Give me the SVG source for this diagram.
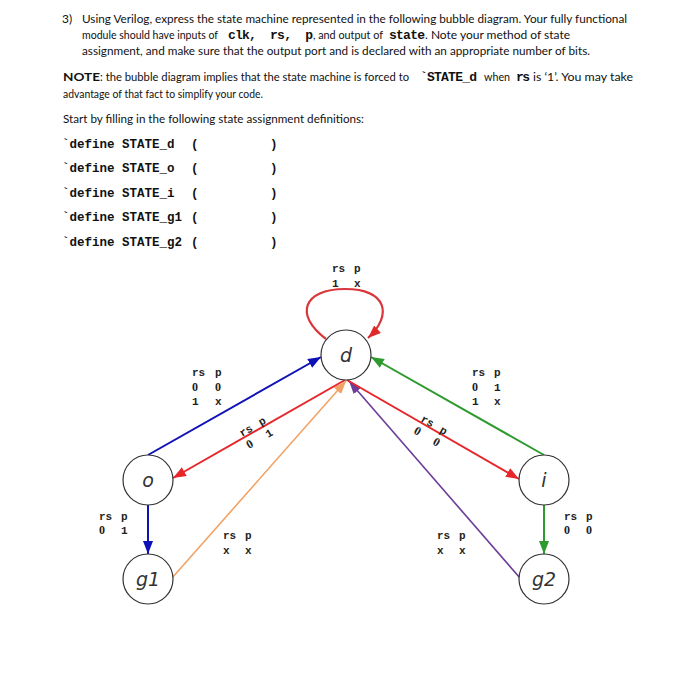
<svg xmlns="http://www.w3.org/2000/svg" width="696" height="700" viewBox="0 0 696 700">
<style>
.t{font-family:Lato,"Liberation Sans",sans-serif;font-size:12px;fill:#111}
.s{font-size:11.3px}
.b{font-weight:bold}
.m{font-family:"Liberation Mono","DejaVu Sans Mono",monospace;font-weight:bold;font-size:13px;fill:#111}
.dm{font-family:"Liberation Mono","DejaVu Sans Mono",monospace;font-weight:bold;font-size:12.5px;fill:#111}
.lb{font-family:"Liberation Mono","DejaVu Sans Mono",monospace;font-weight:bold;font-size:11px;fill:#222}
.z{font-family:"Liberation Serif",serif;font-weight:bold;font-size:12px}
.node circle{fill:#fff;stroke:#333;stroke-width:1.2}
.node text{font-family:"DejaVu Sans",sans-serif;font-weight:200;font-style:italic;font-size:19px;fill:#333;text-anchor:middle}
.e{fill:none}
</style>
<defs>
<marker id="aBlue" markerUnits="userSpaceOnUse" markerWidth="13" markerHeight="10" refX="13" refY="5" orient="auto"><path d="M0,0 L13,5 L0,10 z" fill="#1010b8"/></marker>
<marker id="aRed" markerUnits="userSpaceOnUse" markerWidth="13" markerHeight="10" refX="13" refY="5" orient="auto"><path d="M0,0 L13,5 L0,10 z" fill="#e8262a"/></marker>
<marker id="aLoop" markerUnits="userSpaceOnUse" markerWidth="13" markerHeight="10" refX="13" refY="5" orient="auto"><path d="M0,0 L13,5 L0,10 z" fill="#e02a2a"/></marker>
<marker id="aGreen" markerUnits="userSpaceOnUse" markerWidth="13" markerHeight="10" refX="13" refY="5" orient="auto"><path d="M0,0 L13,5 L0,10 z" fill="#2f9a2f"/></marker>
<marker id="aOrange" markerUnits="userSpaceOnUse" markerWidth="13" markerHeight="10" refX="13" refY="5" orient="auto"><path d="M0,0 L13,5 L0,10 z" fill="#f2a264"/></marker>
<marker id="aPurple" markerUnits="userSpaceOnUse" markerWidth="13" markerHeight="10" refX="13" refY="5" orient="auto"><path d="M0,0 L13,5 L0,10 z" fill="#6b3c98"/></marker>
</defs>
<rect width="696" height="700" fill="#fff"/>

<g id="question">
<text class="t" x="62" y="23">3)</text>
<text class="t" x="82" y="23" textLength="545" lengthAdjust="spacingAndGlyphs">Using Verilog, express the state machine represented in the following bubble diagram.  Your fully functional</text>
<text class="t" x="82" y="39" textLength="136" lengthAdjust="spacingAndGlyphs">module should have inputs of</text>
<text class="m" x="228" y="39" textLength="85" xml:space="preserve">clk,  rs,  p</text>
<text class="t" x="313" y="39" textLength="70" lengthAdjust="spacingAndGlyphs">, and output of</text>
<text class="m" x="389" y="39" textLength="36">state</text>
<text class="t" x="425" y="39" textLength="145" lengthAdjust="spacingAndGlyphs">. Note your method of state</text>
<text class="t" x="82" y="55" textLength="508" lengthAdjust="spacingAndGlyphs">assignment, and make sure that the output port and is declared with an appropriate number of bits.</text>
<text class="t b" x="63" y="81" textLength="37" lengthAdjust="spacingAndGlyphs">NOTE</text>
<text class="t s" x="100" y="81" textLength="309" lengthAdjust="spacingAndGlyphs">: the bubble diagram implies that the state machine is forced to</text>
<text class="m" x="420" y="81" textLength="57">`STATE_d</text>
<text class="t" x="484" y="81" textLength="26" lengthAdjust="spacingAndGlyphs">when</text>
<text class="m" x="516" y="81" textLength="14">rs</text>
<text class="t" x="533" y="81" textLength="100" lengthAdjust="spacingAndGlyphs">is ‘1’.  You may take</text>
<text class="t" x="63" y="98" textLength="200" lengthAdjust="spacingAndGlyphs">advantage of that fact to simplify your code.</text>
<text class="t" x="63" y="123" textLength="301" lengthAdjust="spacingAndGlyphs">Start by filling in the following state assignment definitions:</text>
<text class="dm" x="62" y="148">`define STATE_d</text><text class="dm" x="191" y="148">(</text><text class="dm" x="270" y="148">)</text>
<text class="dm" x="62" y="172">`define STATE_o</text><text class="dm" x="191" y="172">(</text><text class="dm" x="270" y="172">)</text>
<text class="dm" x="62" y="197">`define STATE_i</text><text class="dm" x="191" y="197">(</text><text class="dm" x="270" y="197">)</text>
<text class="dm" x="62" y="221">`define STATE_g1</text><text class="dm" x="191" y="221">(</text><text class="dm" x="270" y="221">)</text>
<text class="dm" x="62" y="246">`define STATE_g2</text><text class="dm" x="191" y="246">(</text><text class="dm" x="270" y="246">)</text>
</g>

<g id="connectors">
<path class="e" d="M326,339 C294,315 303,289 345,289 C387,289 393,315 368,338" stroke="#d9363a" stroke-width="2.2" marker-end="url(#aLoop)"/>
<line x1="148" y1="455" x2="321" y2="357" stroke="#1010b8" stroke-width="2" marker-end="url(#aBlue)"/>
<line x1="345" y1="380" x2="173" y2="478" stroke="#e8262a" stroke-width="2" marker-end="url(#aRed)"/>
<line x1="172" y1="578" x2="346" y2="381" stroke="#f2a264" stroke-width="1.6" marker-end="url(#aOrange)"/>
<line x1="520" y1="578" x2="349" y2="381" stroke="#6b3c98" stroke-width="1.6" marker-end="url(#aPurple)"/>
<line x1="544" y1="455" x2="371" y2="357" stroke="#2f9a2f" stroke-width="2" marker-end="url(#aGreen)"/>
<line x1="347" y1="380" x2="519" y2="479" stroke="#e8262a" stroke-width="2" marker-end="url(#aRed)"/>
<line x1="148" y1="505" x2="148" y2="554" stroke="#1010b8" stroke-width="2" marker-end="url(#aBlue)"/>
<line x1="544" y1="505" x2="544" y2="554" stroke="#2f9a2f" stroke-width="2" marker-end="url(#aGreen)"/>
</g>

<g id="edge-labels">
<text class="lb" y="272"><tspan x="332">rs</tspan><tspan x="354">p</tspan></text>
<text class="lb" y="287"><tspan x="332">1</tspan><tspan x="354">x</tspan></text>

<text class="lb" y="376"><tspan x="192">rs</tspan><tspan x="215">p</tspan></text>
<text class="lb" y="391"><tspan class="z" x="192">0</tspan><tspan class="z" x="215">0</tspan></text>
<text class="lb" y="405"><tspan x="192">1</tspan><tspan x="215">x</tspan></text>

<text class="lb" y="376"><tspan x="472">rs</tspan><tspan x="494">p</tspan></text>
<text class="lb" y="391"><tspan class="z" x="472">0</tspan><tspan x="494">1</tspan></text>
<text class="lb" y="405"><tspan x="472">1</tspan><tspan x="494">x</tspan></text>

<g transform="translate(242,437) rotate(-30)">
<text class="lb" y="0"><tspan x="0">rs</tspan><tspan x="22">p</tspan></text>
<text class="lb" y="14"><tspan class="z" x="0">0</tspan><tspan x="22">1</tspan></text>
</g>
<g transform="translate(420,421) rotate(30)">
<text class="lb" y="0"><tspan x="0">rs</tspan><tspan x="22">p</tspan></text>
<text class="lb" y="14"><tspan class="z" x="0">0</tspan><tspan class="z" x="22">0</tspan></text>
</g>

<text class="lb" y="520"><tspan x="99">rs</tspan><tspan x="121">p</tspan></text>
<text class="lb" y="534"><tspan class="z" x="99">0</tspan><tspan x="121">1</tspan></text>

<text class="lb" y="539"><tspan x="223">rs</tspan><tspan x="245">p</tspan></text>
<text class="lb" y="554"><tspan x="223">x</tspan><tspan x="245">x</tspan></text>

<text class="lb" y="539"><tspan x="437">rs</tspan><tspan x="459">p</tspan></text>
<text class="lb" y="554"><tspan x="437">x</tspan><tspan x="459">x</tspan></text>

<text class="lb" y="520"><tspan x="564">rs</tspan><tspan x="586">p</tspan></text>
<text class="lb" y="534"><tspan class="z" x="564">0</tspan><tspan class="z" x="586">0</tspan></text>
</g>

<g id="node-d" class="node"><circle cx="346" cy="355" r="25"/><text x="346" y="362">d</text></g>
<g id="node-o" class="node"><circle cx="148" cy="480" r="25"/><text x="148" y="487">o</text></g>
<g id="node-i" class="node"><circle cx="544" cy="480" r="25"/><text x="544" y="487">i</text></g>
<g id="node-g1" class="node"><circle cx="148" cy="579" r="25"/><text x="148" y="586">g1</text></g>
<g id="node-g2" class="node"><circle cx="544" cy="579" r="25"/><text x="544" y="586">g2</text></g>
</svg>
